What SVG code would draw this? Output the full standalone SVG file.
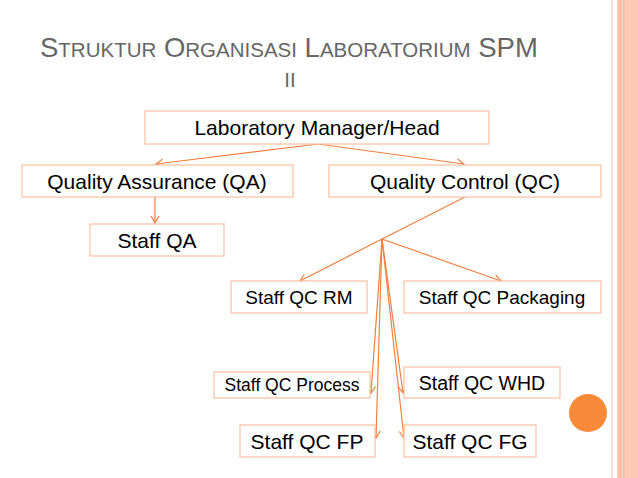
<svg xmlns="http://www.w3.org/2000/svg" width="638" height="478" viewBox="0 0 638 478">
<style>
.b{fill:#fff;stroke:#f8c0a0;stroke-width:1.2}
.t{font-family:"Liberation Sans",Arial,sans-serif;fill:#000;text-anchor:middle}
.c{stroke:#f08040;stroke-width:1.2;fill:none;marker-end:url(#a)}
.ti{font-family:"Liberation Sans",Arial,sans-serif;fill:#666}
</style>
<defs><marker id="a" markerWidth="10" markerHeight="10" refX="8" refY="5" orient="auto" markerUnits="userSpaceOnUse"><path d="M1,1 L8,5 L1,9" fill="none" stroke="#f08040" stroke-width="1.2"/></marker></defs>
<rect width="638" height="478" fill="#fff"/>
<line x1="612" y1="0" x2="612" y2="478" stroke="#fcd0c0" stroke-width="1.5"/>
<rect x="617" y="0" width="21" height="478" fill="#fdc9b6"/>
<line x1="620" y1="0" x2="620" y2="478" stroke="#f5b7a0" stroke-width="1.5"/>
<line x1="624" y1="0" x2="624" y2="478" stroke="#f5b7a0" stroke-width="1"/>
<circle cx="588" cy="413" r="19" fill="#f88a3a"/>
<text class="ti" x="40" y="57" font-size="27.5">S<tspan font-size="20.5">TRUKTUR</tspan> O<tspan font-size="20.5">RGANISASI</tspan> L<tspan font-size="20.5">ABORATORIUM</tspan> SPM</text>
<text class="ti" x="290" y="87" font-size="20.5" text-anchor="middle">II</text>
<g id="connectors">
<path class="c" d="M318,144 L156,164"/>
<path class="c" d="M318,144 L464,164"/>
<path class="c" d="M155,197 L155,223"/>
<path d="M465,197 L382,239" stroke="#f08040" stroke-width="1.2"/>
<path class="c" d="M382,239 L300,281"/>
<path class="c" d="M382,239 L501,281"/>
<path class="c" d="M382,239 L371,393"/>
<path class="c" d="M382,239 L403,393"/>
<path class="c" d="M382,239 L376,438"/>
<path class="c" d="M382,239 L404,438"/>
</g>
<g id="manager"><rect class="b" x="145" y="111" width="344" height="33"/><text class="t" x="317" y="135" font-size="21">Laboratory Manager/Head</text></g>
<g id="qa"><rect class="b" x="22" y="165" width="271" height="32"/><text class="t" x="157" y="189" font-size="21">Quality Assurance (QA)</text></g>
<g id="qc"><rect class="b" x="329" y="165" width="272" height="32"/><text class="t" x="465" y="189" font-size="21">Quality Control (QC)</text></g>
<g id="staffqa"><rect class="b" x="90" y="224" width="134" height="32"/><text class="t" x="157" y="248" font-size="21">Staff QA</text></g>
<g id="rm"><rect class="b" x="231" y="281" width="136" height="32"/><text class="t" x="299" y="304" font-size="19">Staff QC RM</text></g>
<g id="pack"><rect class="b" x="404" y="281" width="197" height="32"/><text class="t" x="502" y="304" font-size="19">Staff QC Packaging</text></g>
<g id="process"><rect class="b" x="214" y="372" width="156" height="26"/><text class="t" x="292" y="391" font-size="17.5">Staff QC Process</text></g>
<g id="whd"><rect class="b" x="404" y="367" width="156" height="31"/><text class="t" x="482" y="390" font-size="19.5">Staff QC WHD</text></g>
<g id="fp"><rect class="b" x="240" y="425" width="135" height="32"/><text class="t" x="307" y="449" font-size="21">Staff QC FP</text></g>
<g id="fg"><rect class="b" x="404" y="425" width="132" height="32"/><text class="t" x="470" y="449" font-size="21">Staff QC FG</text></g>
</svg>
